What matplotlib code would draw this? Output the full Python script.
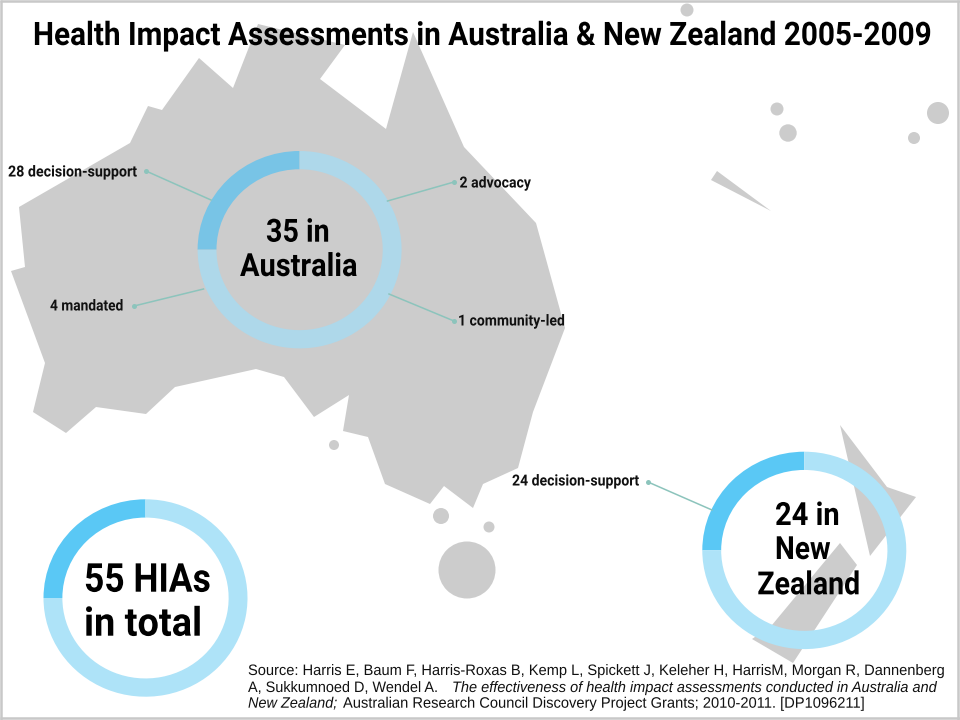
import matplotlib
matplotlib.use("Agg")
import matplotlib.pyplot as plt
from matplotlib.patches import Ellipse, Polygon
from matplotlib.patheffects import AbstractPathEffect
from matplotlib.transforms import Affine2D

# ---- chart content ----
title = "Health Impact Assessments in Australia & New Zealand 2005-2009"
ring_shares = [25, 75]              # highlighted arc, remainder (as drawn)
total_label = ["55 HIAs", "in total"]
aus_label = ["35 in", "Australia"]
nz_label = ["24 in", "New", "Zealand"]
aus_types = ["28 decision-support", "2 advocacy", "4 mandated", "1 community-led"]
nz_types = ["24 decision-support"]
source_1 = "Source: Harris E, Baum F, Harris-Roxas B, Kemp L, Spickett J, Keleher H, HarrisM, Morgan R, Dannenberg"
source_2a = "A, Sukkumnoed D, Wendel A."
source_2b = "The effectiveness of health impact assessments conducted in Australia and"
source_3a = "New Zealand;"
source_3b = "Australian Research Council Discovery Project Grants; 2010-2011. [DP1096211]"

# ---- map outline (pixels of the slide) ----
australia_x = [258, 345, 320, 386, 413, 464, 536, 565, 533, 518, 483, 473, 444, 430, 385, 368,
               343, 349, 314, 284, 256, 175, 146, 96, 66, 33, 45, 11, 25, 19, 130, 148, 162, 199, 233]
australia_y = [24, 45, 79, 129, 32, 147, 223, 328, 412, 468, 484, 508, 486, 504, 484, 437,
               431, 395, 417, 377, 369, 387, 414, 407, 433, 412, 363, 271, 267, 207, 143, 106, 110, 58, 88]
islands = [
    [(840, 425), (887, 487), (916, 497), (870, 556)],
    [(840, 543), (857, 565), (793, 663), (752, 639), (772, 625)],
    [(717, 171), (711, 180), (771, 211)],
]
dots = [(687, 10, 6.5), (777, 109, 6.5), (788, 133, 8.7), (938, 113, 11), (914, 138, 6),
        (334, 445, 5), (441, 516, 8), (489, 527, 5.5), (467, 570, 28.5)]

GREY = "#CCCCCC"
TEAL = "#8CC4BC"
W, H = 960, 720

fig = plt.figure(figsize=(9.6, 7.2), dpi=100, facecolor="white")
bg = fig.add_axes([0, 0, 1, 1])
bg.set_xlim(0, W)
bg.set_ylim(H, 0)
bg.axis("off")

bg.add_patch(Polygon(list(zip(australia_x, australia_y)), closed=True, fc=GREY, ec="none", zorder=1))
for pts in islands:
    bg.add_patch(Polygon(pts, closed=True, fc=GREY, ec="none", zorder=1))
for x, y, r in dots:
    bg.add_patch(Ellipse((x, y), 2 * r, 2 * r, fc=GREY, ec="none", zorder=1))


def ring(cx, cy, dark, light):
    rx, ry = 102, 98.7
    ax = fig.add_axes([(cx - rx) / W, 1 - (cy + ry) / H, 2 * rx / W, 2 * ry / H], zorder=2)
    ax.pie(ring_shares, startangle=90, counterclock=True, colors=[dark, light], radius=1,
           wedgeprops=dict(width=0.185, linewidth=0))
    ax.set_aspect("auto")
    ax.set_xlim(-1, 1)
    ax.set_ylim(-1, 1)
    ax.patch.set_visible(False)
    return ax


ring(299.6, 249.7, "#78C4E6", "#AED8EA")
ring(145.5, 598, "#5AC8F5", "#AEE3F8")
ring(804.3, 550.4, "#5AC8F5", "#AEE3F8")

fg = fig.add_axes([0, 0, 1, 1], zorder=3)
fg.set_xlim(0, W)
fg.set_ylim(H, 0)
fg.axis("off")
fg.patch.set_visible(False)


def leader(dot, end):
    fg.plot([dot[0], end[0]], [dot[1], end[1]], color=TEAL, lw=1.1)
    fg.plot([dot[0]], [dot[1]], "o", color=TEAL, ms=3.6, mec="none")


leader((146, 171), (211, 200))
leader((454, 182), (387.5, 201))
leader((134, 306), (203.5, 289))
leader((454, 321), (389, 294))
leader((648, 482), (712, 510))


class Tall(AbstractPathEffect):
    """Stretch a text vertically about its baseline (no condensed font is installed)."""

    def __init__(self, sy, y0):
        super().__init__()
        self.sy, self.y0 = sy, y0

    def draw_path(self, renderer, gc, tpath, affine, rgbFace=None):
        stretch = Affine2D().translate(0, -self.y0).scale(1, self.sy).translate(0, self.y0)
        renderer.draw_path(gc, tpath, affine + stretch, rgbFace)


fig.canvas.draw()
renderer = fig.canvas.get_renderer()


def put(s, x0, x1, base, size, family="Roboto", weight="bold", style="normal", color="black"):
    """Real text fitted to x0..x1: font size set by width, height restored to `size`."""
    t = fg.text(x0, base, s, family=family, weight=weight, style=style, fontsize=size,
                color=color, ha="left", va="baseline")
    fit = size * (x1 - x0) / t.get_window_extent(renderer).width
    t.set_fontsize(fit)
    t.set_path_effects([Tall(size / fit, H - base)])
    return t


put(title, 33, 932, 45, 23.3)

put(aus_types[0], 8, 137, 176.5, 11, color="#111111")
put(aus_types[1], 459.5, 531, 187.5, 11, color="#111111")
put(aus_types[2], 50, 123.5, 310.5, 11, color="#111111")
put(aus_types[3], 458, 565, 325.5, 11, color="#111111")
put(nz_types[0], 512, 639, 485.5, 11, color="#111111")

put(aus_label[0], 266, 330, 241.7, 23)
put(aus_label[1], 240, 358, 276, 23)
put(total_label[0], 84, 211, 591.7, 28.7)
put(total_label[1], 84, 202, 635.7, 28.7)
put(nz_label[0], 775, 840, 525, 23)
put(nz_label[1], 775, 830.7, 559, 23)
put(nz_label[2], 757.3, 860.7, 594.3, 23)

src = dict(family="Liberation Sans", weight="normal", size=10.9, color="#111111")
put(source_1, 248, 943, 675, **src)
put(source_2a, 248, 438, 692, **src)
put(source_2b, 452, 937, 692, style="italic", **src)
put(source_3a, 248, 337, 707.7, style="italic", **src)
put(source_3b, 343, 864, 707.7, **src)

# slide frame
for (x0, y0, x1, y1) in [(0.5, 0, 0.5, H), (958, 0, 958, H), (0, 1, W, 1), (0, 718, W, 718)]:
    fg.plot([x0, x1], [y0, y1], color="#C8C8C8", lw=1.8, solid_capstyle="butt")

fig.savefig("out.png", dpi=100)
